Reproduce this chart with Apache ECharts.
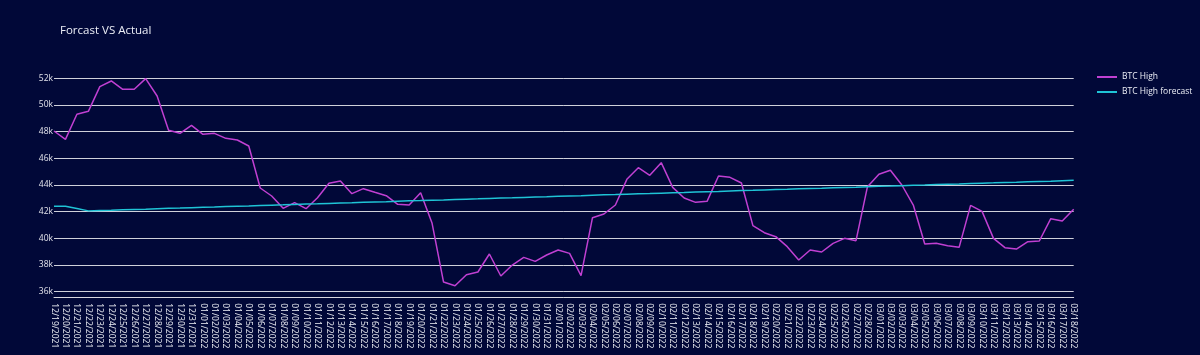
<!DOCTYPE html>
<html>
<head>
<meta charset="utf-8">
<script src="https://cdn.jsdelivr.net/npm/echarts@6/dist/echarts.min.js"></script>
<style>
html,body{margin:0;padding:0;background:#010838;}
#chart{width:1200px;height:355px;}
</style>
</head>
<body>
<div id="chart"></div>
<script>
const dates = [
"12/19/2021","12/20/2021","12/21/2021","12/22/2021","12/23/2021","12/24/2021","12/25/2021","12/26/2021","12/27/2021","12/28/2021","12/29/2021","12/30/2021","12/31/2021",
"01/01/2022","01/02/2022","01/03/2022","01/04/2022","01/05/2022","01/06/2022","01/07/2022","01/08/2022","01/09/2022","01/10/2022","01/11/2022","01/12/2022","01/13/2022","01/14/2022","01/15/2022","01/16/2022","01/17/2022","01/18/2022","01/19/2022","01/20/2022","01/21/2022","01/22/2022","01/23/2022","01/24/2022","01/25/2022","01/26/2022","01/27/2022","01/28/2022","01/29/2022","01/30/2022","01/31/2022",
"02/01/2022","02/02/2022","02/03/2022","02/04/2022","02/05/2022","02/06/2022","02/07/2022","02/08/2022","02/09/2022","02/10/2022","02/11/2022","02/12/2022","02/13/2022","02/14/2022","02/15/2022","02/16/2022","02/17/2022","02/18/2022","02/19/2022","02/20/2022","02/21/2022","02/22/2022","02/23/2022","02/24/2022","02/25/2022","02/26/2022","02/27/2022","02/28/2022",
"03/01/2022","03/02/2022","03/03/2022","03/04/2022","03/05/2022","03/06/2022","03/07/2022","03/08/2022","03/09/2022","03/10/2022","03/11/2022","03/12/2022","03/13/2022","03/14/2022","03/15/2022","03/16/2022","03/17/2022","03/18/2022"
];

const btcHigh = [
48050,47425,49300,49525,51375,51800,51175,51175,51975,50675,
48100,47875,48475,47800,47875,47500,47375,46925,43775,43175,
42250,42675,42225,43050,44125,44300,43350,43725,43450,43200,
42550,42500,43425,41125,36725,36450,37275,37475,38825,37175,
38000,38575,38275,38750,39125,38875,37200,41550,41825,42500,
44425,45300,44725,45675,43825,43025,42700,42775,44675,44575,
44150,40950,40425,40125,39375,38375,39125,38975,39625,40000,
39825,43875,44800,45100,44000,42500,39575,39625,39450,39325,
42475,42025,40000,39300,39200,39750,39800,41475,41300,42175
];

const btcHighForecast = [
42400,42400,42230,42060,42090,42110,42140,42170,42190,42220,
42250,42270,42300,42330,42350,42380,42410,42430,42460,42490,
42510,42540,42570,42590,42620,42650,42670,42700,42730,42750,
42780,42810,42830,42860,42880,42910,42940,42960,42990,43020,
43040,43070,43100,43120,43150,43180,43200,43230,43260,43280,
43310,43340,43360,43390,43420,43440,43470,43500,43520,43550,
43580,43600,43630,43660,43680,43710,43740,43760,43790,43820,
43840,43870,43900,43920,43950,43980,44000,44030,44060,44080,
44110,44140,44160,44190,44210,44240,44270,44290,44320,44350
];

const seriesNames = ["BTC High", "BTC High forecast"];
const yTicks = {min: 36000, max: 52000, step: 2000};

const chart = echarts.init(document.getElementById('chart'), null, {renderer: 'canvas'});
const font = "'Open Sans', 'Noto Sans', sans-serif";
chart.setOption({
  backgroundColor: '#010838',
  animation: false,
  title: {
    text: 'Forcast VS Actual',
    left: 55, top: 20,
    textStyle: {color: '#eceef6', fontSize: 11.5, fontWeight: 'normal', fontFamily: font}
  },
  legend: {
    orient: 'vertical',
    left: 1092, top: 66,
    itemWidth: 20, itemHeight: 2, itemGap: 3,
    icon: 'rect',
    textStyle: {color: '#eceef6', fontSize: 8.5, fontFamily: font, lineHeight: 12},
    data: seriesNames
  },
  grid: {left: 54, right: 126.3, top: 78.3, bottom: 63.3, containLabel: false},
  xAxis: {
    type: 'category',
    data: dates,
    boundaryGap: false,
    offset: 5.5,
    axisLine: {show: true, lineStyle: {color: '#d8d8e0', width: 1}},
    axisTick: {show: false},
    splitLine: {show: false},
    axisLabel: {
      interval: 0, rotate: -90, margin: 6,
      color: '#eef0f6', fontSize: 8.5, fontFamily: font
    }
  },
  yAxis: {
    type: 'value',
    min: yTicks.min, max: yTicks.max, interval: yTicks.step,
    axisLine: {show: false},
    axisTick: {show: false},
    splitLine: {show: true, lineStyle: {color: '#cfd0da', width: 1}},
    axisLabel: {
      margin: 1,
      color: '#e4e4ec', fontSize: 8.5, fontFamily: font,
      formatter: v => (v / 1000) + 'k'
    }
  },
  series: [
    {
      name: seriesNames[0], type: 'line', data: btcHigh,
      symbol: 'none', lineStyle: {color: '#c040d2', width: 1.5},
      itemStyle: {color: '#c040d2'}
    },
    {
      name: seriesNames[1], type: 'line', data: btcHighForecast,
      symbol: 'none', lineStyle: {color: '#1fc4d6', width: 1.5},
      itemStyle: {color: '#1fc4d6'}
    }
  ]
});
</script>
</body>
</html>
